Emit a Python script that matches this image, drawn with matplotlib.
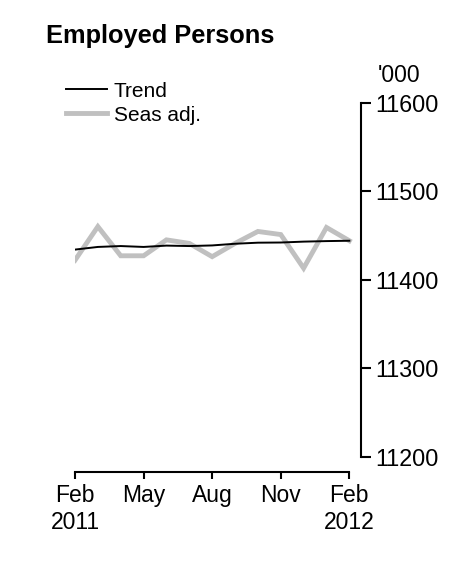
import matplotlib
matplotlib.use("Agg")
import matplotlib.pyplot as plt

# monthly data, Feb 2011 .. Feb 2012 ('000)
months = list(range(13))
trend = [11434, 11437, 11438, 11437, 11438.5, 11438, 11438.7,
         11440.6, 11441.8, 11442, 11443, 11443.6, 11444]
seas_adj = [11422, 11460, 11427, 11427, 11445, 11441, 11426,
            11441, 11454.5, 11451, 11413, 11459, 11444]

tick_pos = [0, 3, 6, 9, 12]
tick_labels = ["Feb\n2011", "May", "Aug", "Nov", "Feb\n2012"]
y_ticks = [11200, 11300, 11400, 11500, 11600]

plt.rcParams['font.family'] = ['Liberation Sans', 'DejaVu Sans']

fig = plt.figure(figsize=(4.74, 5.65), dpi=100)
ax = fig.add_axes([75 / 474, 1 - 471.7 / 565, 286 / 474, 369 / 565])

ax.plot(months, seas_adj, color="#c0c0c0", lw=3.5, label="Seas adj.",
        solid_joinstyle="miter", zorder=2)
ax.plot(months, trend, color="black", lw=1.4, label="Trend", zorder=3)

ax.set_xlim(0, 12.51)
ax.set_ylim(11183, 11600)

for s in ["top", "left"]:
    ax.spines[s].set_visible(False)
ax.spines["right"].set_bounds(11200, 11600)
ax.spines["bottom"].set_bounds(0, 12)
ax.spines["right"].set_linewidth(1.5)
ax.spines["bottom"].set_linewidth(1.5)

ax.yaxis.tick_right()
ax.set_yticks(y_ticks)
ax.set_yticklabels([str(v) for v in y_ticks])
ax.tick_params(axis="y", direction="out", length=7, width=1.5, pad=3,
               labelsize=16.8)

ax.set_xticks(tick_pos)
ax.set_xticklabels(tick_labels)
ax.tick_params(axis="x", direction="out", length=5, width=1.5, pad=4,
               labelsize=16.5)

fig.text(378 / 474, 1 - 76 / 565, "'000", fontsize=16.5, va="center", ha="left")
fig.text(46 / 474, 1 - 43 / 565, "Employed Persons", fontsize=18.3,
         fontweight="heavy", va="baseline", ha="left")

handles, labels = ax.get_legend_handles_labels()
ax.legend(handles[::-1], labels[::-1], loc="upper left",
          bbox_to_anchor=(-0.062, 1.08), frameon=False, fontsize=15,
          handlelength=2.0, handletextpad=0.3, labelspacing=0.25,
          borderaxespad=0)

fig.savefig("out.png", dpi=100)
